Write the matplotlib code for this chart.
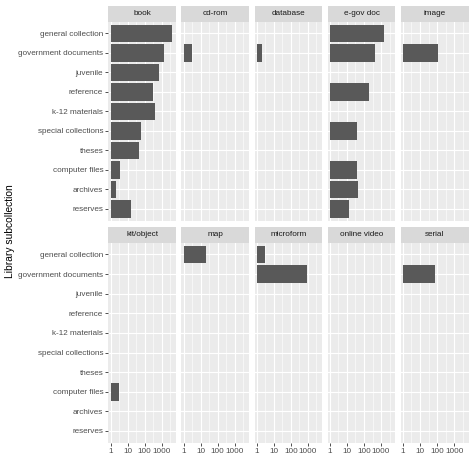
import numpy as np
import matplotlib
matplotlib.use("Agg")
import matplotlib.pyplot as plt

plt.rcParams['font.family'] = ['Liberation Sans', 'DejaVu Sans']

#### data ---------------------------------------

subcollections = ["general collection", "government documents", "juvenile",
                  "reference", "k-12 materials", "special collections",
                  "theses", "computer files", "archives", "reserves"]

formats = ["book", "cd-rom", "database", "e-gov doc", "image",
           "kit/object", "map", "microform", "online video", "serial"]

nan = np.nan
book = [4200, 1300, 680, 320, 420, 62, 47, 3.6, 2, 15]
cd_rom = [nan, 3, nan, nan, nan, nan, nan, nan, nan, nan]
database = [nan, 2, nan, nan, nan, nan, nan, nan, nan, nan]
e_gov_doc = [1400, 450, nan, 210, nan, 39, nan, 39, 45, 14]
image = [nan, 120, nan, nan, nan, nan, nan, nan, nan, nan]
kit_object = [nan, nan, nan, nan, nan, nan, nan, 3, nan, nan]
map_ = [21, nan, nan, nan, nan, nan, nan, nan, nan, nan]
microform = [3, 850, nan, nan, nan, nan, nan, nan, nan, nan]
online_video = [nan, nan, nan, nan, nan, nan, nan, nan, nan, nan]
serial = [nan, 80, nan, nan, nan, nan, nan, nan, nan, nan]

x_ticks = [1, 10, 100, 1000]
x_tick_labels = ["1", "10", "100", "1000"]

counts = dict(zip(formats, [book, cd_rom, database, e_gov_doc, image,
                            kit_object, map_, microform, online_video, serial]))

#### plot ---------------------------------------

W = H = 474
fig = plt.figure(figsize=(W / 100, H / 100), dpi=100)
fig.patch.set_facecolor("white")

panel_w = 67.8
col_left = [108.3 + i * 73.1 for i in range(5)]
rows = [(21.7, 220.7, 6.2), (242.7, 442.7, 227.3)]  # panel top, panel bottom, strip top

ypos = np.arange(len(subcollections))
minor = [10 ** (k + 0.5) for k in range(0, 4)]

for idx, fmt in enumerate(formats):
    r, c = divmod(idx, 5)
    top, bottom, strip_top = rows[r]
    left = col_left[c]

    ax = fig.add_axes([left / W, 1 - bottom / H, panel_w / W, (bottom - top) / H])
    ax.set_facecolor("#EBEBEB")
    for s in ax.spines.values():
        s.set_visible(False)
    ax.set_xscale("log")

    vals = np.array(counts[fmt], dtype=float)
    ok = ~np.isnan(vals)
    ax.barh(ypos[ok], vals[ok] - 1, left=1, height=0.9, color="#595959")

    ax.set_xticks(x_ticks)
    ax.set_xticks(minor, minor=True)
    ax.set_yticks(ypos)
    ax.set_xlim(10 ** -0.13, 10 ** 3.84)
    ax.set_ylim(len(subcollections) - 0.4, -0.6)
    ax.grid(which="major", color="white", lw=0.8)
    ax.grid(which="minor", axis="x", color="white", lw=0.4)
    ax.set_axisbelow(True)

    ax.tick_params(which="minor", length=0)
    ax.tick_params(which="major", length=2.2, width=0.6, color="#333333",
                   labelsize=5.9, labelcolor="#4D4D4D", pad=1.5)
    if r == 1:
        ax.set_xticklabels(x_tick_labels)
    else:
        ax.tick_params(axis="x", length=0, labelbottom=False)
    if c == 0:
        ax.set_yticklabels(subcollections)
    else:
        ax.tick_params(axis="y", length=0, labelleft=False)

    # facet strip
    sax = fig.add_axes([left / W, 1 - top / H, panel_w / W, (top - strip_top) / H])
    sax.set_facecolor("#D9D9D9")
    sax.set_xticks([])
    sax.set_yticks([])
    for s in sax.spines.values():
        s.set_visible(False)
    sax.text(0.5, 0.5, fmt, ha="center", va="center", fontsize=5.9,
             color="#1A1A1A", transform=sax.transAxes)

fig.text(10 / W, 1 - 231.5 / H, "Library subcollection", rotation=90,
         ha="center", va="center", fontsize=7.4, color="black")

fig.savefig("out.png", dpi=100)
